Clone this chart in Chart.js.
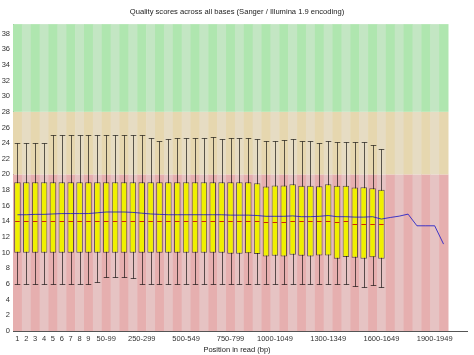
<!DOCTYPE html>
<html>
<head>
<meta charset="utf-8">
<script src="https://cdn.jsdelivr.net/npm/chart.js@4"></script>
<style>
html,body{margin:0;padding:0;background:#fff;}
#wrap{width:474px;height:355px;}
</style>
</head>
<body>
<div id="wrap"><canvas id="c" width="474" height="355"></canvas></div>
<script>
// ---- data ----
const positions = ['1','2','3','4','5','6','7','8','9','10-49','50-99','100-149','150-199','200-249','250-299','300-349','350-399','400-449','450-499','500-549','550-599','600-649','650-699','700-749','750-799','800-849','850-899','900-949','950-999','1000-1049','1050-1099','1100-1149','1150-1199','1200-1249','1250-1299','1300-1349','1350-1399','1400-1449','1450-1499','1500-1549','1550-1599','1600-1649','1650-1699','1700-1749','1750-1799','1800-1849','1850-1899','1900-1949','1950-1999'];
const shownLabels = ['1','2','3','4','5','6','7','8','9','50-99','250-299','500-549','750-799','1000-1049','1300-1349','1600-1649','1900-1949'];
const yTicks = [0,2,4,6,8,10,12,14,16,18,20,22,24,26,28,30,32,34,36,38];

const whiskerLow = [6,6,6,6,6,6,6,6,6,6.3,6.9,6.9,6.9,6.8,6,6,6,6,6,6,6,6,6,6,6,6,6,6,6,6,6,6,6,6,6,6,6,6,5.8,5.65,5.9,5.65,null,null,null,null,null,null,null];
const lowerQuartile = [10,10,10,10,10,10,10,10,10,10,10,10,10,10,10,10,10,10,10,10,10,10,10,10,9.87,9.87,9.93,9.83,9.53,9.6,9.53,9.75,9.6,9.53,9.64,9.64,9.24,9.45,9.36,9.22,9.41,9.22,null,null,null,null,null,null,null];
const median = [14,14,14,14,14,14,14,14,14,14,14,14,14,14,14,14,14,14,14,14,14,14,14,14,14,14,14,14,13.95,13.95,13.95,14,14.05,14,14,14.1,13.86,14,13.7,13.65,13.7,13.65,null,null,null,null,null,null,null];
const upperQuartile = [19,19,19,19,19,19,19,19,19,19,19,19,19,19,19,19,19,19,19,19,19,19,19,19,19,19,19,18.88,18.45,18.58,18.58,18.75,18.54,18.54,18.5,18.75,18.54,18.54,18.32,18.37,18.24,18.03,null,null,null,null,null,null,null];
const whiskerHigh = [24,24,24,24,25,25,25,25,25,25,25,25,25,25,25,24.6,24.3,24.5,24.6,24.7,24.7,24.7,24.8,24.5,24.7,24.6,24.7,24.5,24.3,24.3,24.4,24.5,24.3,24.3,24.05,24.3,24.1,24.1,24.2,24.1,23.7,23.2,null,null,null,null,null,null,null];
const meanQuality = [14.85,14.85,14.9,14.9,14.95,15.0,15.0,15.0,15.0,15.1,15.2,15.2,15.2,15.15,15.05,14.95,14.9,14.85,14.85,14.85,14.85,14.85,14.85,14.85,14.8,14.8,14.8,14.75,14.65,14.65,14.65,14.7,14.6,14.6,14.65,14.75,14.6,14.6,14.55,14.55,14.6,14.3,14.5,14.67,14.93,13.44,13.44,13.44,11.1];

const bands = [
  {from:0, to:20, light:'rgb(230,195,195)', dark:'rgb(230,175,175)'},
  {from:20, to:28, light:'rgb(230,220,195)', dark:'rgb(230,215,175)'},
  {from:28, to:null, light:'rgb(195,230,195)', dark:'rgb(175,230,175)'}
];

const boxData = lowerQuartile.map((v,i)=> v==null ? null : [v, upperQuartile[i]]);

Chart.defaults.font.family = "'Liberation Sans', Arial, sans-serif";
Chart.defaults.font.size = 7.5;
Chart.defaults.color = '#333';

const stripes = {
  id:'stripes',
  beforeDatasetsDraw(chart){
    const {ctx, chartArea, scales:{x,y}} = chart;
    const n = positions.length;
    const w = (chartArea.right - chartArea.left)/n;
    ctx.save();
    for(let i=0;i<n;i++){
      const cx = x.getPixelForValue(i);
      const l = cx - w/2;
      bands.forEach(b=>{
        const top = b.to==null ? chartArea.top : y.getPixelForValue(b.to);
        const bot = y.getPixelForValue(b.from);
        ctx.fillStyle = (i%2===0) ? b.dark : b.light;
        ctx.fillRect(l, top, w+0.5, bot-top);
      });
    }
    ctx.restore();
  },
  beforeDatasetDraw(chart, args){
    if(args.index!==0) return;
    const {ctx, scales:{x,y}} = chart;
    const meta = chart.getDatasetMeta(0);
    ctx.save();
    ctx.strokeStyle = 'rgba(0,0,0,0.62)';
    ctx.lineWidth = 1;
    for(let i=0;i<positions.length;i++){
      if(whiskerLow[i]==null) continue;
      const el = meta.data[i];
      const bw = el.width;
      const cx = Math.round(x.getPixelForValue(i)) + 0.5;
      const yl = Math.round(y.getPixelForValue(whiskerLow[i])) + 0.5;
      const yh = Math.round(y.getPixelForValue(whiskerHigh[i])) + 0.5;
      ctx.beginPath();
      ctx.moveTo(cx, yl); ctx.lineTo(cx, yh);
      ctx.moveTo(cx - bw/2 + 0.5, yl); ctx.lineTo(cx + bw/2 - 0.5, yl);
      ctx.moveTo(cx - bw/2 + 0.5, yh); ctx.lineTo(cx + bw/2 - 0.5, yh);
      ctx.stroke();
    }
    ctx.restore();
  },
  afterDatasetDraw(chart, args){
    if(args.index!==0) return;
    const {ctx, scales:{x,y}} = chart;
    const meta = chart.getDatasetMeta(0);
    ctx.save();
    ctx.strokeStyle = 'rgb(210,40,0)';
    ctx.lineWidth = 1;
    for(let i=0;i<positions.length;i++){
      if(median[i]==null) continue;
      const el = meta.data[i];
      const bw = el.width;
      const cx = x.getPixelForValue(i);
      const ym = Math.round(y.getPixelForValue(median[i])) + 0.5;
      ctx.beginPath();
      ctx.moveTo(cx - bw/2 + 1, ym); ctx.lineTo(cx + bw/2 - 1, ym);
      ctx.stroke();
    }
    ctx.restore();
  },
  afterDraw(chart){
    const {ctx, chartArea} = chart;
    ctx.save();
    ctx.strokeStyle = '#555';
    ctx.lineWidth = 1;
    const yb = Math.round(chartArea.bottom) + 0.5;
    ctx.beginPath();
    ctx.moveTo(chartArea.left, yb); ctx.lineTo(468, yb);
    ctx.stroke();
    ctx.restore();
  }
};

new Chart(document.getElementById('c'), {
  data: {
    labels: positions,
    datasets: [
      {
        type:'bar',
        label:'Interquartile range',
        data: boxData,
        backgroundColor:'rgb(240,240,0)',
        borderColor:'rgba(0,0,0,0.6)',
        borderWidth:1,
        borderSkipped:false,
        barPercentage:0.74,
        categoryPercentage:1,
        order:2
      },
      {
        type:'line',
        label:'Mean',
        data: meanQuality,
        borderColor:'rgba(20,20,200,0.8)',
        borderWidth:1,
        pointRadius:0,
        tension:0,
        fill:false,
        order:1
      }
    ]
  },
  options: {
    responsive:false,
    animation:false,
    devicePixelRatio:1,
    layout:{padding:{left:0,right:0,top:0,bottom:0}},
    plugins:{
      legend:{display:false},
      tooltip:{enabled:false},
      title:{display:true, text:'Quality scores across all bases (Sanger / Illumina 1.9 encoding)', color:'#222', font:{size:7.6, weight:'normal'}, padding:{top:7,bottom:8}},
      subtitle:{display:true, position:'bottom', text:'Position in read (bp)', color:'#222', font:{size:7.5}, padding:{top:2,bottom:1}}
    },
    scales:{
      x:{
        type:'category',
        offset:true,
        grid:{display:false, drawTicks:false},
        border:{display:false},
        ticks:{autoSkip:false, maxRotation:0, minRotation:0, padding:3, color:'#333',
          callback:function(v, idx){ const l = positions[idx]; return shownLabels.includes(l) ? l : ''; }},
        afterFit:(s)=>{ s.height = 12; }
      },
      y:{
        position:'left',
        min:0, max:39.2,
        grid:{display:false, drawTicks:false},
        border:{display:true, color:'#555', width:1},
        ticks:{padding:3, color:'#333'},
        afterBuildTicks:(s)=>{ s.ticks = yTicks.map(v=>({value:v})); },
        afterFit:(s)=>{ s.width = 13; }
      },
      y2:{
        position:'right',
        display:true,
        grid:{display:false},
        border:{display:false},
        ticks:{display:false},
        afterFit:(s)=>{ s.width = 26; }
      }
    }
  },
  plugins:[stripes]
});
</script>
</body>
</html>
